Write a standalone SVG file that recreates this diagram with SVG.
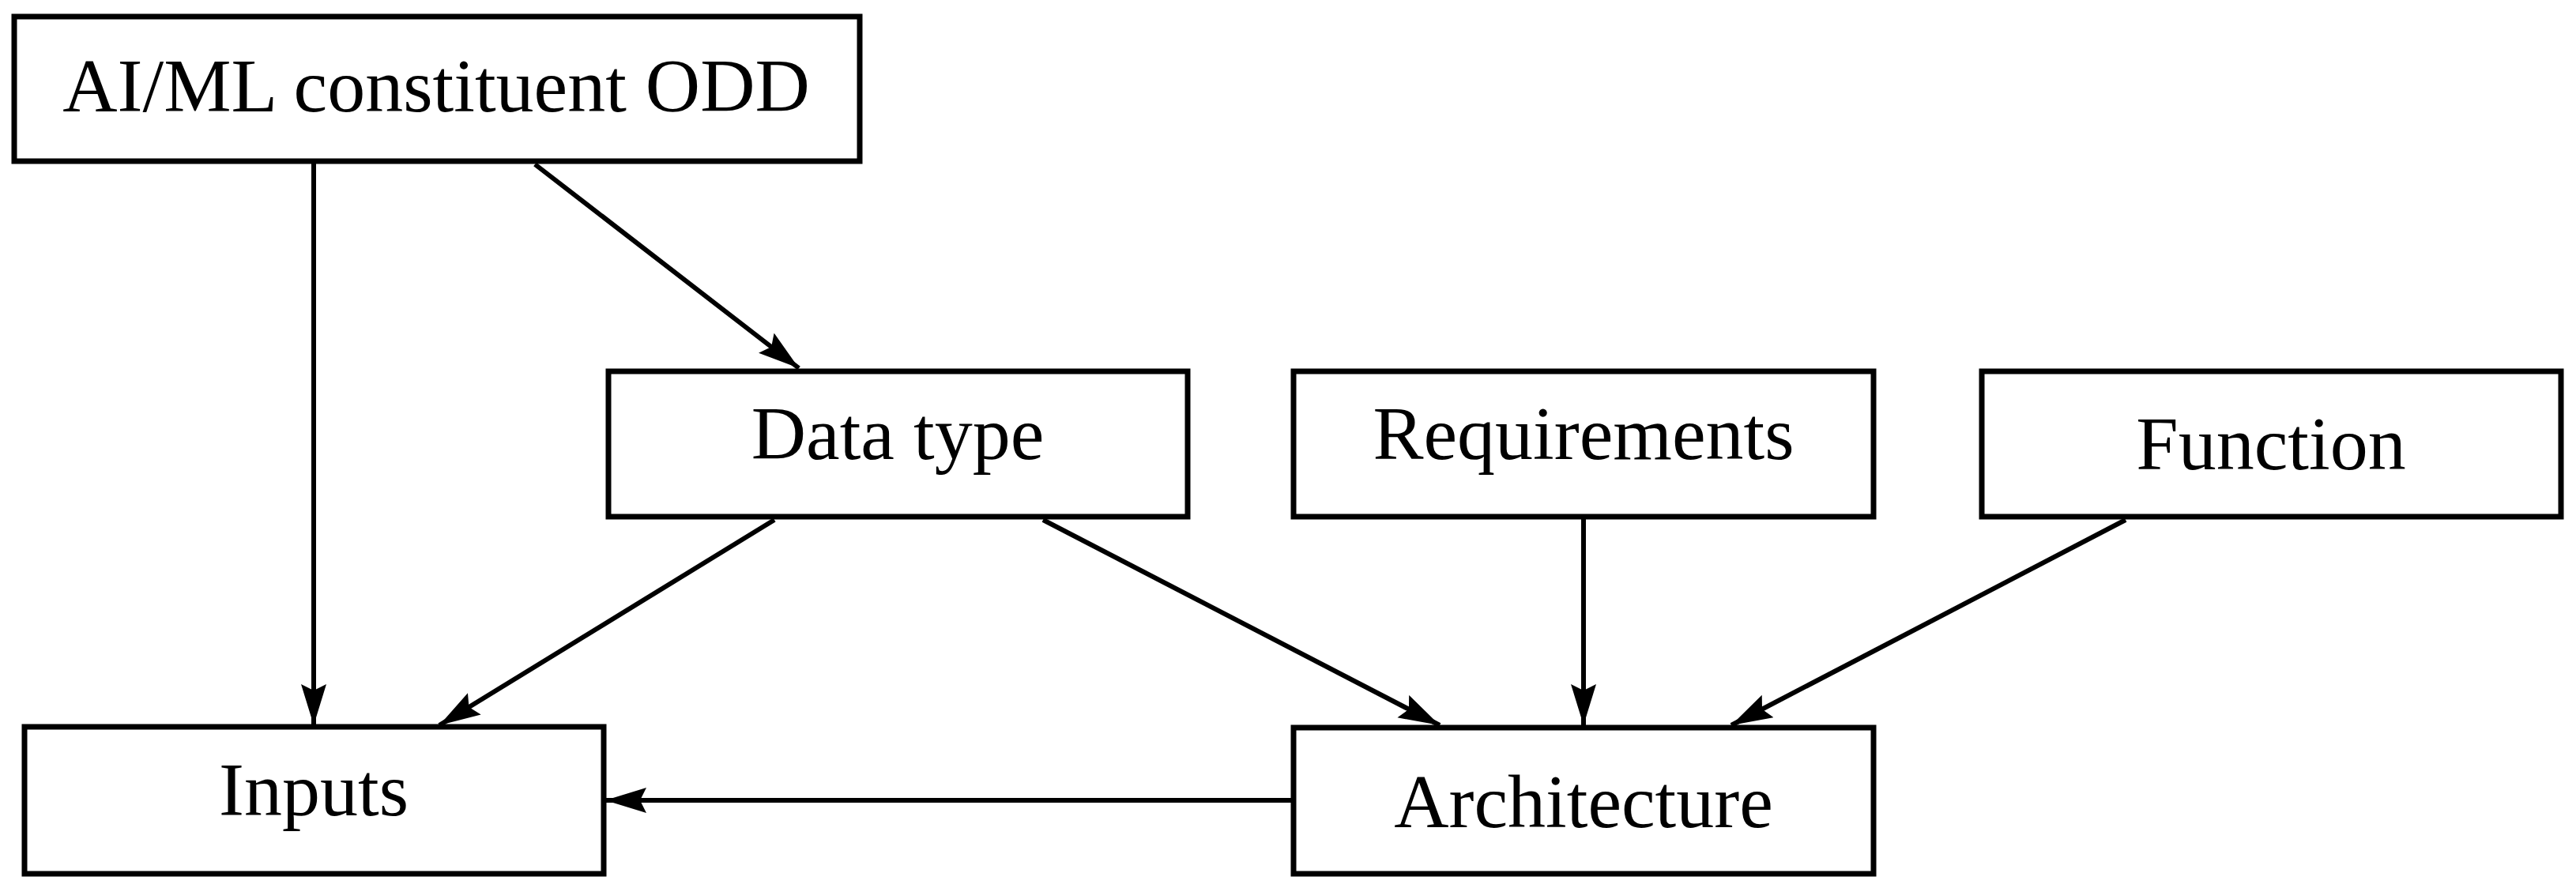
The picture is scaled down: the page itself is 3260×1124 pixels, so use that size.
<svg xmlns="http://www.w3.org/2000/svg" width="3260" height="1124" viewBox="0 0 3260 1124">
<style>
.box{fill:#fff;stroke:#000;stroke-width:7}
.lbl{font-family:"Liberation Serif",serif;font-size:96px;text-anchor:middle;fill:#000}
.c{stroke:#000;stroke-width:6;fill:none;marker-end:url(#ah)}
</style>
<defs>
<marker id="ah" markerUnits="userSpaceOnUse" markerWidth="60" markerHeight="40" refX="52" refY="16" orient="auto">
<path d="M0,0 L52,16 L0,32 L8,16 Z" fill="#000"/>
</marker>
</defs>
<rect width="3260" height="1124" fill="#fff"/>
<g id="connectors">
<line class="c" x1="397" y1="206" x2="397" y2="918"/>
<line class="c" x1="677" y1="208" x2="1011" y2="466"/>
<line class="c" x1="980" y1="658" x2="556" y2="918"/>
<line class="c" x1="1320" y1="658" x2="1822" y2="918"/>
<line class="c" x1="2004" y1="656" x2="2004" y2="918"/>
<line class="c" x1="2690" y1="658" x2="2191" y2="918"/>
<line class="c" x1="1637" y1="1013" x2="766" y2="1013"/>
</g>
<g id="odd"><rect class="box" x="18" y="21" width="1070" height="183"/><text class="lbl" x="552" y="141">AI/ML constituent ODD</text></g>
<g id="datatype"><rect class="box" x="770" y="470" width="733" height="184"/><text class="lbl" x="1136" y="581">Data type</text></g>
<g id="requirements"><rect class="box" x="1637" y="470" width="734" height="184"/><text class="lbl" x="2004" y="581">Requirements</text></g>
<g id="function"><rect class="box" x="2508" y="470" width="733" height="184"/><text class="lbl" x="2874" y="594">Function</text></g>
<g id="inputs"><rect class="box" x="31" y="920" width="733" height="186"/><text class="lbl" x="397" y="1032">Inputs</text></g>
<g id="architecture"><rect class="box" x="1637" y="921" width="734" height="185"/><text class="lbl" x="2004" y="1047">Architecture</text></g>
</svg>
